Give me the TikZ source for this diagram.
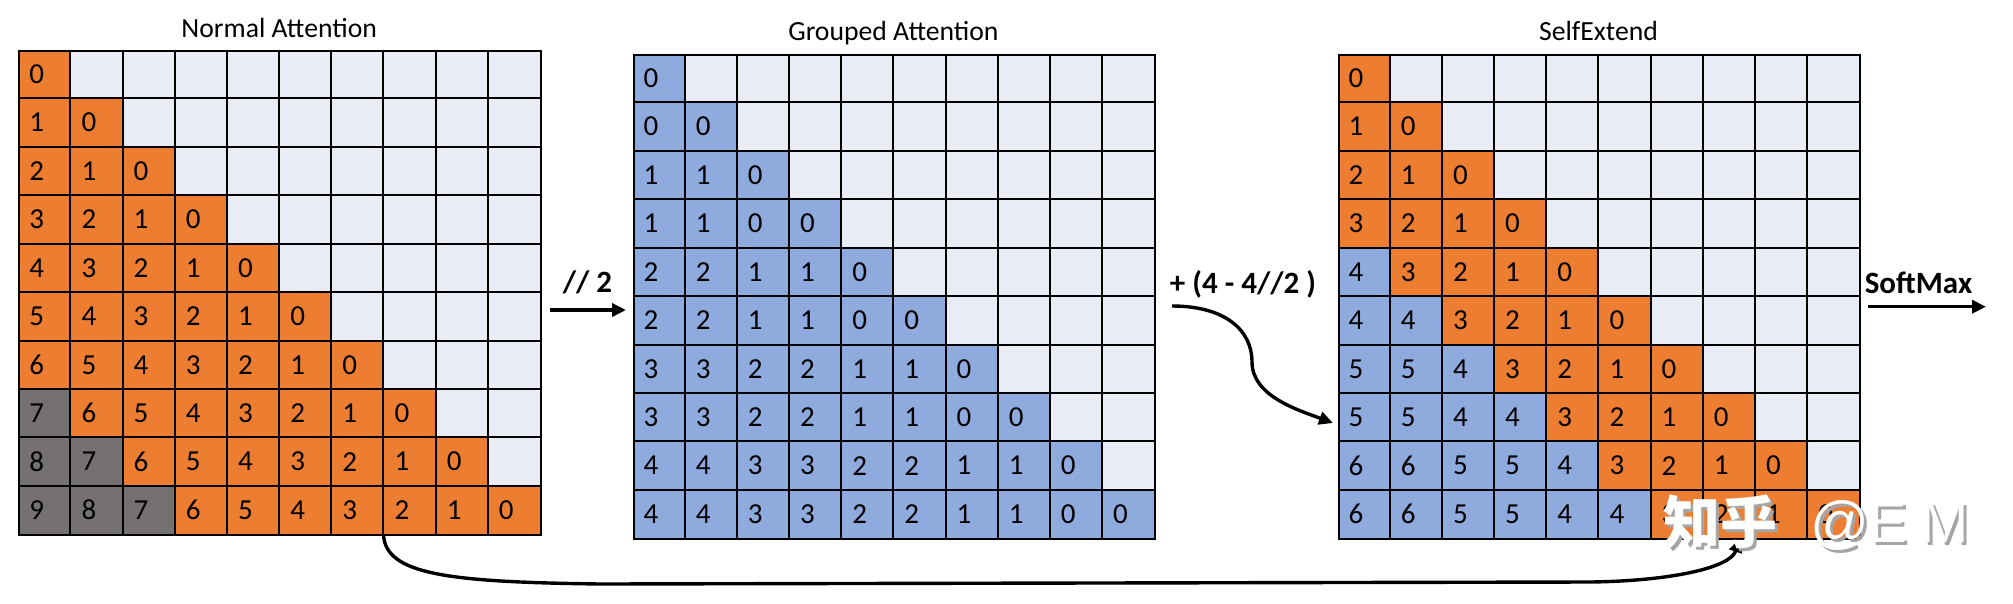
\documentclass[tikz,border=0pt]{standalone}
\usepackage{fontspec}
\setmainfont{Carlito}
\newfontfamily\cjkfont{Noto Sans CJK SC}
\newfontfamily\wmfont{Liberation Sans}
\usetikzlibrary{arrows.meta}
\definecolor{cOrange}{RGB}{237,125,49}
\definecolor{cLight}{RGB}{233,235,245}
\definecolor{cBlue}{RGB}{143,170,220}
\definecolor{cGray}{RGB}{118,113,113}
\definecolor{cShadow}{RGB}{165,165,165}
\newcommand\CW{52.17}
\newcommand\CH{48.43}
\tikzset{
  digit/.style={anchor=west, inner sep=0pt, font=\fontsize{29}{34}\selectfont},
  title/.style={anchor=base, inner sep=0pt, font=\fontsize{27.7}{33}\selectfont},
  oplabel/.style={anchor=base, inner sep=0pt, font=\bfseries\fontsize{31}{37}\selectfont},
  gridline/.style={line width=2pt, black},
  border/.style={draw=black, line width=2pt, anchor=north west, inner sep=0pt,
    minimum width=521.7pt, minimum height=484.3pt},
  flowarrow/.style={line width=3.4pt, -{Triangle[length=14pt,width=13pt]}},
  wmcjk/.style={anchor=base west, inner sep=0pt, font=\cjkfont\bfseries\fontsize{57}{60}\selectfont},
  wmlat/.style={anchor=base west, inner sep=0pt, font=\wmfont\fontsize{58}{60}\selectfont},
}
% #1 x0, #2 y0, #3 mode (1 normal, 2 grouped, 3 selfextend), #4 name prefix
\newcommand\drawmatrix[4]{%
  \foreach \i in {0,...,9}{%
    \foreach \j in {0,...,9}{%
      \pgfmathtruncatemacro\dd{\i-\j}%
      \pgfmathtruncatemacro\gg{floor(\i/2)-floor(\j/2)}%
      \ifnum\dd<0
        \def\cc{cLight}\def\vv{}%
      \else
        \ifcase#3\or
          \ifnum\dd>6 \def\cc{cGray}\else\def\cc{cOrange}\fi
          \edef\vv{\dd}%
        \or
          \def\cc{cBlue}\edef\vv{\gg}%
        \or
          \ifnum\dd>3 \def\cc{cBlue}\pgfmathtruncatemacro\vv{\gg+2}%
          \else\def\cc{cOrange}\edef\vv{\dd}\fi
        \fi
      \fi
      \fill[\cc] ({#1+\j*\CW},{#2+\i*\CH}) rectangle ++(\CW,\CH);
      \ifnum\dd>-1
        \node[digit] (#4-\i-\j) at ({#1+\j*\CW+10.9},{#2+(\i+0.5)*\CH}) {\vv};
      \fi
    }%
  }%
  \foreach \k in {1,...,9}{%
    \draw[gridline] ({#1+\k*\CW},#2) -- ++(0,{10*\CH});
    \draw[gridline] (#1,{#2+\k*\CH}) -- ++({10*\CW},0);
  }%
  \node[border] (#4) at (#1,#2) {};
}
\begin{document}
\begin{tikzpicture}[x=1pt,y=-1pt]
  \fill[white] (0,0) rectangle (2013,603);
  \useasboundingbox (0,0) rectangle (2013,603);

  % matrices
  \drawmatrix{18.3}{50}{1}{na}
  \drawmatrix{632.5}{54}{2}{ga}
  \drawmatrix{1337.6}{54}{3}{se}

  % titles
  \node[title] (t1) at (279.2,37.3) {Normal Attention};
  \node[title] (t2) at (893.4,40.7) {Grouped Attention};
  \node[title] (t3) at (1598.5,40.7) {SelfExtend};

  % // 2
  \node[oplabel] (l1) at (587.5,292.7) {// 2};
  \coordinate (a1s) at (550,310);
  \coordinate (a1e) at (626,310);
  \draw[flowarrow] (a1s) -- (a1e);

  % + (4 - 4//2 )
  \node[oplabel] (l2) at (1243,293.5) {+ (4 - 4//2 )};
  \coordinate (a2s) at (1172,306);
  \coordinate (a2m) at (1252,362);
  \coordinate (a2e) at (1333,423);
  \draw[flowarrow] (a2s) .. controls (1225,306) and (1252,330) .. (a2m)
    .. controls (1252,396) and (1298,410) .. (a2e);

  % SoftMax
  \node[oplabel] (l3) at (1918.5,293.3) {SoftMax};
  \coordinate (a3s) at (1868,306.7);
  \coordinate (a3e) at (1986,306.7);
  \draw[flowarrow] (a3s) -- (a3e);

  % bottom connector
  \coordinate (b1) at (383.5,534.3);
  \coordinate (b2) at (600,584);
  \coordinate (b3) at (1590,582);
  \coordinate (b4) at (1740,538.3);
  \draw[flowarrow] (b1) .. controls (385,575) and (450,582) .. (b2) -- (b3)
    .. controls (1670,581) and (1730,568) .. (b4);

  % watermark
  \node[wmcjk, text=cShadow] (w1s) at (1666,546) {知乎};
  \node[wmcjk, text=white] (w1) at (1663,543) {知乎};
  \node[wmlat, text=cShadow] (w2s) at (1813,545) {@};
  \node[wmlat, text=white] (w2) at (1810,542) {@};
  \node[wmlat, text=cShadow] (w3s) at (1871,545) {E};
  \node[wmlat, text=white] (w3) at (1868,542) {E};
  \node[wmlat, text=cShadow] (w4s) at (1923,545) {M};
  \node[wmlat, text=white] (w4) at (1920,542) {M};
\end{tikzpicture}
\end{document}
